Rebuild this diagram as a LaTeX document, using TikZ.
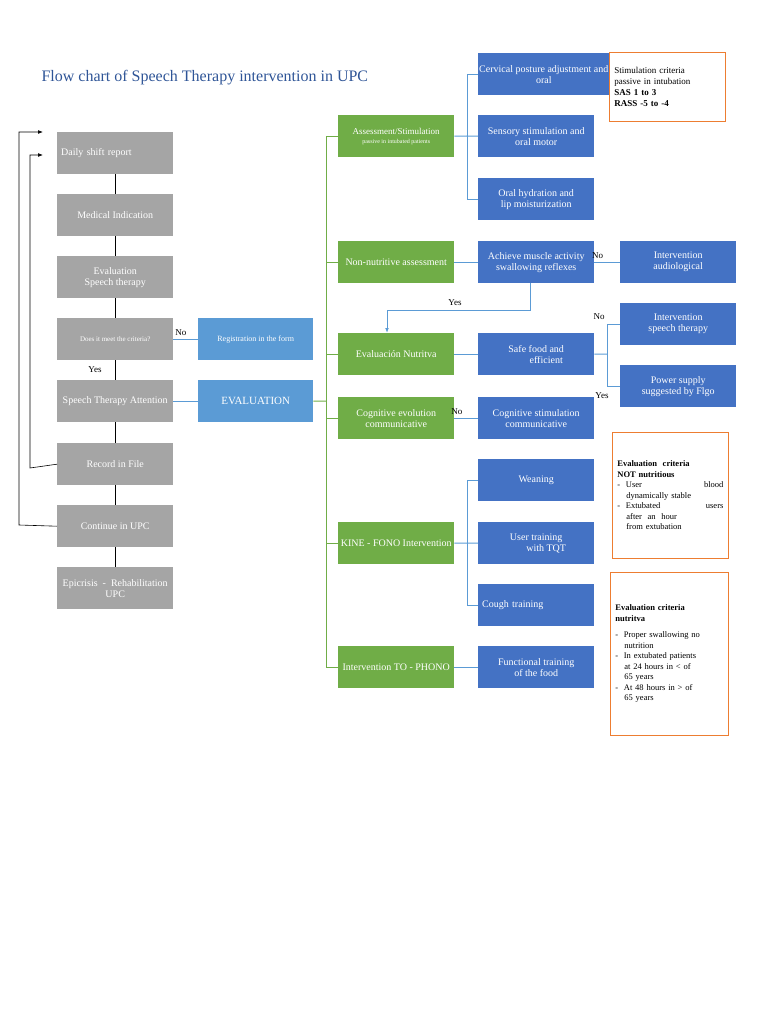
\documentclass[tikz,border=0pt]{standalone}
\usepackage{fontspec}
\setmainfont{Liberation Serif}
\usetikzlibrary{arrows.meta}
\definecolor{gbox}{HTML}{A5A5A5}
\definecolor{gr}{HTML}{70AD47}
\definecolor{bl}{HTML}{4472C4}
\definecolor{lb}{HTML}{5B9BD5}
\definecolor{org}{HTML}{ED7D31}
\definecolor{ttl}{HTML}{2F5597}
\begin{document}
\begin{tikzpicture}[x=1pt,y=-1pt,
 box/.style={minimum width=116pt,minimum height=42pt,inner sep=1pt,text=white,font=\fontsize{10}{11}\selectfont,align=center,anchor=north west},
 gb/.style={box,fill=gbox},
 grb/.style={box,fill=gr},
 blb/.style={box,fill=bl},
 lbb/.style={box,fill=lb},
 note/.style={draw=org,thick,anchor=north west,align=left,font=\fontsize{9}{11}\selectfont,inner sep=5pt,text width=108pt},
 gl/.style={gr,line width=1pt},
 bll/.style={lb,line width=1pt},
 kl/.style={black,line width=0.6pt}]
\useasboundingbox (0,0) rectangle (768,1024);
\node[anchor=west,text=ttl,font=\fontsize{16}{18}\selectfont] (title) at (38,78) {Flow chart of Speech Therapy intervention in UPC};
% left column
\node[gb,align=left,text width=108pt] (a1) at (57,132) {Daily shift report};
\node[gb] (a2) at (57,194) {Medical Indication};
\node[gb] (a3) at (57,256) {Evaluation\\Speech therapy};
\node[gb,font=\fontsize{7}{8}\selectfont] (a4) at (57,318) {Does it meet the criteria?};
\node[gb] (a5) at (57,380) {Speech Therapy Attention};
\node[gb] (a6) at (57,443) {Record in File};
\node[gb] (a7) at (57,505) {Continue in UPC};
\node[gb] (a8) at (57,567) {Epicrisis \ - \ Rehabilitation\\UPC};
\foreach \u/\v in {a1/a2,a2/a3,a3/a4,a4/a5,a5/a6,a6/a7,a7/a8} \draw[kl] (\u.south) -- (\v.north);
\node[font=\fontsize{9}{10}\selectfont] (yes1) at (95,370) {Yes};
\node[lbb,font=\fontsize{8}{9}\selectfont,minimum width=115pt] (reg) at (198,318) {Registration in the form};
\node[lbb,font=\fontsize{11}{12}\selectfont,minimum width=115pt] (ev) at (198,380) {EVALUATION};
\draw[bll] (a4.east) -- (reg.west) node[pos=0.3,above,black,font=\fontsize{9}{10}\selectfont] {No};
\draw[bll] (a5.east) -- (ev.west);
% loopbacks
\coordinate (c1) at (19,525); \coordinate (c2) at (30,468);
\draw[kl,-{Latex[length=5pt]}] (a7.west) -- (c1) |- (43,132);
\draw[kl,-{Latex[length=5pt]}] (a6.west) -- (c2) |- (43,155);
% green
\node[grb,font=\fontsize{9}{10}\selectfont] (g1) at (338,115) {Assessment/Stimulation\\[-1pt]{\fontsize{6}{7}\selectfont passive in intubated patients}};
\node[grb] (g2) at (338,241) {Non-nutritive assessment};
\node[grb] (g3) at (338,333) {Evaluación Nutritva};
\node[grb] (g4) at (338,397) {Cognitive evolution\\communicative};
\node[grb] (g5) at (338,522) {KINE - FONO Intervention};
\node[grb] (g6) at (338,646) {Intervention TO - PHONO};
\coordinate (tr) at (326,401);
\draw[gl] (ev.east) -- (tr);
\foreach \g in {g1,g2,g3,g4,g5,g6} \draw[gl] (tr|-\g.west) -- (\g.west);
\draw[gl] (tr|-g1.west) -- (tr|-g6.west);
% blue
\node[blb] (b1) at (478,53) {Cervical posture adjustment and\\oral};
\node[blb] (b2) at (478,115) {Sensory stimulation and\\oral motor};
\node[blb] (b3) at (478,178) {Oral hydration and\\lip moisturization};
\node[blb] (b4) at (478,241) {Achieve muscle activity\\swallowing reflexes};
\node[blb] (b5) at (478,333) {Safe food and\\\qquad efficient};
\node[blb] (b6) at (478,397) {Cognitive stimulation\\communicative};
\node[blb] (b7) at (478,459) {Weaning};
\node[blb] (b8) at (478,522) {User training\\\qquad with TQT};
\node[blb,align=left,text width=108pt] (b9) at (478,584) {Cough training};
\node[blb] (b10) at (478,646) {Functional training\\of the food};
\node[blb] (r1) at (620,241) {Intervention\\audiological};
\node[blb] (r2) at (620,303) {Intervention\\speech therapy};
\node[blb] (r3) at (620,365) {Power supply\\suggested by Flgo};
% blue connectors
\coordinate (s1) at (467,136);
\draw[bll] (g1.east) -- (s1);
\draw[bll] (s1|-b1.west) -- (b1.west);
\draw[bll] (s1|-b3.west) -- (b3.west);
\draw[bll] (s1|-b1.west) -- (s1|-b3.west);
\draw[bll] (s1) -- (b2.west);
\draw[bll] (g2.east) -- (b4.west);
\draw[bll] (b4.east) -- (r1.west) node[pos=0,above right,black,font=\fontsize{9}{10}\selectfont,xshift=-6pt] {No};
\draw[bll] (g3.east) -- (b5.west);
\draw[bll] (g4.east) -- (b6.west) node[pos=0.1,above,black,font=\fontsize{9}{10}\selectfont] {No};
\coordinate (s2) at (607,354);
\draw[bll] (b5.east) -- (s2);
\draw[bll] (s2|-r2.west) -- (r2.west);
\draw[bll] (s2|-r3.west) -- (r3.west);
\draw[bll] (s2|-r2.west) -- (s2|-r3.west);
\node[font=\fontsize{9}{10}\selectfont] (no3) at (599,317) {No};
\node[font=\fontsize{9}{10}\selectfont] (yes3) at (602,396) {Yes};
\coordinate (s3) at (467,543);
\draw[bll] (g5.east) -- (s3);
\draw[bll] (s3|-b7.west) -- (b7.west);
\draw[bll] (s3|-b9.west) -- (b9.west);
\draw[bll] (s3|-b7.west) -- (s3|-b9.west);
\draw[bll] (s3) -- (b8.west);
\draw[bll] (g6.east) -- (b10.west);
% yes arrow
\coordinate (y1) at (530,310);
\coordinate (y2) at (387,310);
\draw[bll,-{Latex[length=5pt]}] (b4.south-|y1) -- (y1) -- (y2) -- (y2|-g3.north);
\node[font=\fontsize{9}{10}\selectfont] (yes2) at (455,303) {Yes};
% notes
\node[note,minimum height=69pt,text width=106pt] (n1) at (609,52) {Stimulation criteria\\passive in intubation\\\textbf{SAS 1 to 3}\\\textbf{RASS -5 to -4}};
\node[note,minimum height=126pt,text width=106pt,font=\fontsize{8.5}{10.5}\selectfont] (n2) at (612,432) {\textbf{Evaluation \ criteria}\\\textbf{NOT nutritious}\\- \ User \hfill blood\\\hspace*{9pt}dynamically stable\\- \ Extubated \hfill users\\\hspace*{9pt}after \ an \ hour\\\hspace*{9pt}from extubation};
\node[note,minimum height=163pt,text width=108pt,font=\fontsize{8.5}{10.5}\selectfont] (n3) at (610,572) {\textbf{Evaluation criteria}\\\textbf{nutritva}\\[6pt]- \ Proper swallowing no\\\hspace*{9pt}nutrition\\- \ In extubated patients\\\hspace*{9pt}at 24 hours in < of\\\hspace*{9pt}65 years\\- \ At 48 hours in > of\\\hspace*{9pt}65 years};
\end{tikzpicture}
\end{document}
